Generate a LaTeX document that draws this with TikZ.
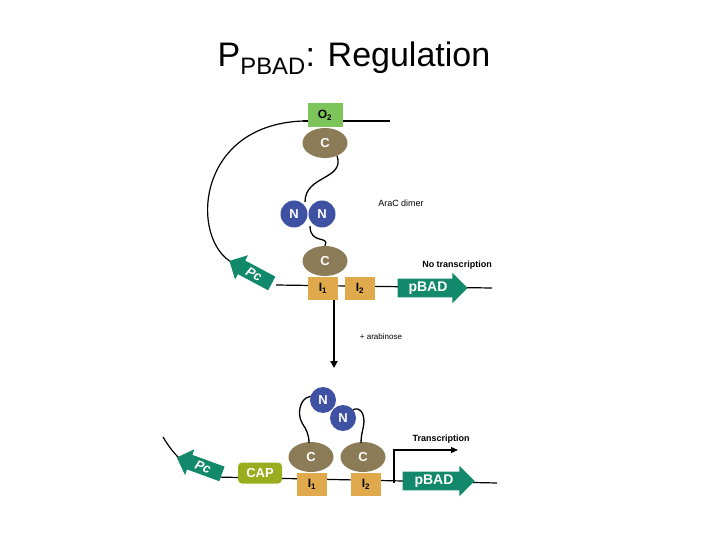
\documentclass[tikz,border=0pt]{standalone}
\usepackage{fontspec}
\setmainfont{Liberation Sans}
\usetikzlibrary{shapes.geometric,shapes.arrows,arrows.meta}
\definecolor{cbrown}{HTML}{8B7B57}
\definecolor{nblue}{HTML}{3F51A3}
\definecolor{ogreen}{HTML}{7DC55A}
\definecolor{iorange}{HTML}{E0A94B}
\definecolor{pgreen}{HTML}{12896A}
\definecolor{capg}{HTML}{9AAD1E}
\begin{document}
\begin{tikzpicture}[x=1pt,y=-1pt,
  cdom/.style={ellipse,fill=cbrown,minimum width=45,minimum height=30,inner sep=0,text=white,font=\bfseries\fontsize{13}{13}\selectfont},
  ndom/.style={circle,fill=nblue,minimum size=27,inner sep=0,text=white,font=\bfseries\fontsize{13}{13}\selectfont},
  ibox/.style={rectangle,fill=iorange,minimum width=30,minimum height=23,inner sep=0,font=\bfseries\fontsize{12}{12}\selectfont},
  prom/.style={single arrow,fill=pgreen,text=white,single arrow head extend=6,inner sep=3,minimum height=70,minimum width=20,font=\bfseries\fontsize{14}{14}\selectfont},
  pcs/.style={single arrow,fill=pgreen,text=white,single arrow head extend=6,inner sep=3,minimum height=48,minimum width=20,font=\bfseries\itshape\fontsize{13}{13}\selectfont},
  lbl/.style={font=\bfseries\fontsize{9}{9}\selectfont},
  dna/.style={line width=1.2},
  link/.style={line width=1.3}]
\useasboundingbox (0,0) rectangle (720,540);
\node[font=\fontsize{34}{34}\selectfont] (title) at (354,58) {P\textsubscript{PBAD}: Regulation};
% top state
\draw[dna] (303,121) -- (390,121);
\draw[dna] (303,121) .. controls (190,125) and (190,250) .. (238,265);
\draw[dna] (276,285) -- (492,288);
\node[fill=ogreen,minimum width=35,minimum height=24,inner sep=0,font=\bfseries\fontsize{12}{12}\selectfont] (o2) at (325,115) {O\textsubscript{2}};
\node[cdom] (c1) at (325,143) {C};
\node[ibox] (i1) at (323,288) {I\textsubscript{1}};
\node[ibox] (i2) at (360,288) {I\textsubscript{2}};
\node[cdom] (c2) at (325,261) {C};
\draw[link] (c1.south east) ++(-4,2) .. controls (345,180) and (305,175) .. (305,202);
\draw[link] (310,226) .. controls (310,245) and (330,235) .. (c2.north);
\node[ndom] (n1) at (294,214) {N};
\node[ndom] (n2) at (322,214) {N};
\node[prom,minimum height=70] (pb1) at (428,288) {pBAD};
\node[pcs,rotate=152] (pc1) at (254,274) {\rotatebox{180}{Pc}};
\node[font=\fontsize{9}{9}\selectfont] (arac) at (401,203) {AraC dimer};
\node[lbl] (nt) at (457,265) {No transcription};
% transition arrow
\coordinate (a1) at (334,300);
\coordinate (a2) at (334,368);
\draw[line width=2,-{Triangle[length=7,width=7]}] (a1) -- (a2);
\node[font=\fontsize{8}{8}\selectfont] (ara) at (381,337) {+ arabinose};
% bottom state
\draw[dna] (163,437) .. controls (172,452) and (180,460) .. (186,463);
\draw[dna] (215,477) -- (497,483);
\node[fill=capg,rounded corners=4,minimum width=44,minimum height=21,inner sep=0,text=white,font=\bfseries\fontsize{13}{13}\selectfont] (cap) at (260,473) {CAP};
\node[ibox] (i3) at (312,484) {I\textsubscript{1}};
\node[ibox] (i4) at (366,484) {I\textsubscript{2}};
\node[cdom] (c3) at (311,457) {C};
\node[cdom] (c4) at (363,457) {C};
\draw[link] (309,443) .. controls (309,425) and (297,425) .. (300,408) .. controls (302,398) and (310,395) .. (313,397);
\draw[link] (361,443) .. controls (361,430) and (366,425) .. (363,415) .. controls (361,408) and (355,408) .. (353,410);
\node[ndom,minimum size=26] (n3) at (323,400) {N};
\node[ndom,minimum size=26] (n4) at (343,418) {N};
\coordinate (t0) at (394,483);
\coordinate (t1) at (394,450);
\coordinate (t2) at (458,450);
\draw[line width=1.2,-{Triangle[length=7,width=6]}] (t0) -- (t1) -- (t2);
\node[lbl] (tr) at (441,439) {Transcription};
\node[prom,minimum height=72] (pb2) at (434,481) {pBAD};
\node[pcs,rotate=160] (pc2) at (203,467) {\rotatebox{180}{Pc}};
\end{tikzpicture}
\end{document}
